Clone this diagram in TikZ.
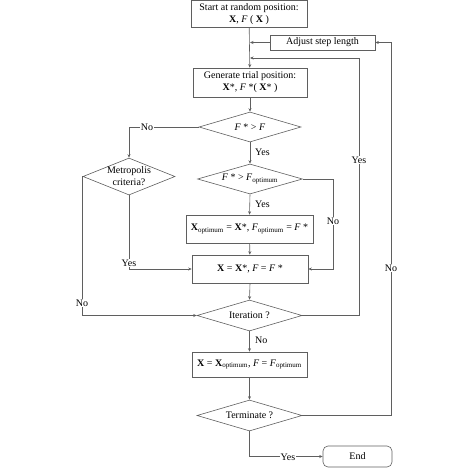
\documentclass[tikz,border=0pt]{standalone}
\usepackage{fontspec}
\setmainfont{Liberation Serif}
\usetikzlibrary{shapes.geometric,arrows.meta}
\definecolor{ln}{RGB}{95,95,95}
\begin{document}
\begin{tikzpicture}[x=1pt,y=-1pt,
  font=\fontsize{10}{12}\selectfont,
  box/.style={draw=ln,line width=0.6pt,rectangle,inner sep=0pt,align=center},
  dia/.style={draw=ln,line width=0.6pt,diamond,inner sep=0pt,shape aspect=3},
  lab/.style={fill=white,inner sep=1pt},
  conn/.style={draw=ln,line width=0.6pt},
  arr/.style={conn,-{Stealth[length=3.5pt,width=3pt]}}]
\useasboundingbox (0,0) rectangle (474,474);
% boxes
\node[box,minimum width=116pt,minimum height=27pt] (start) at (249,14)
  {Start at random position:\\ \textbf{X}, \textit{F} ( \textbf{X} )};
\node[box,minimum width=105pt,minimum height=15pt] (adjust) at (322.5,42.5) {Adjust step length};
\node[box,minimum width=114pt,minimum height=29pt] (gen) at (250,82.5)
  {Generate trial position:\\ \textbf{X}*, \textit{F} *( \textbf{X}* )};
\node[dia,minimum width=102pt,minimum height=30pt,label={center:\textit{F} * > \textit{F}}] (d1) at (250,127) {};
\node[dia,minimum width=92pt,minimum height=37pt,label={[align=center]center:Metropolis\\criteria?}] (metro) at (129,176.5) {};
\node[dia,minimum width=105pt,minimum height=30pt,label={center:\textit{F} * > \textit{F}\textsubscript{optimum}}] (d2) at (250,179) {};
\node[box,minimum width=127pt,minimum height=28pt] (xopt) at (249.5,229)
  {\textbf{X}\textsubscript{optimum} = \textbf{X}*, \textit{F}\textsubscript{optimum} = \textit{F} *};
\node[box,minimum width=116pt,minimum height=28pt] (xx) at (250,269)
  {\textbf{X} = \textbf{X}*, \textit{F} = \textit{F} *};
\node[dia,minimum width=105pt,minimum height=31pt,label={center:Iteration ?}] (iter) at (249.5,315.5) {};
\node[box,minimum width=115pt,minimum height=25pt] (xfin) at (249.5,364.5)
  {\textbf{X} = \textbf{X}\textsubscript{optimum}, \textit{F} = \textit{F}\textsubscript{optimum}};
\node[dia,minimum width=105pt,minimum height=31pt,label={center:Terminate ?}] (term) at (249.5,415.5) {};
\node[box,rounded corners=5pt,minimum width=69pt,minimum height=21pt] (end) at (357.5,456.5) {End};
% coordinates
\coordinate (yc) at (359,58);
\coordinate (nc) at (391,42.5);
\coordinate (c2) at (333,269);
\coordinate (c3) at (82,315.5);
% connectors
\draw[arr] (start) -- (gen);
\draw[arr] (adjust.west) -- (adjust.west -| gen.north);
\draw[arr] (iter.east) -| (yc) -- (yc -| gen.north);
\draw[arr] (term.east) -| (nc) -- (adjust.east);
\draw[arr] (gen) -- (d1);
\draw[arr] (d1.south) -- (d2.north);
\draw[arr] (d1.west) -| (metro.north);
\draw[arr] (d2.south) -- (xopt.north);
\draw[arr] (d2.east) -| (c2) -- (xx.east);
\draw[arr] (xopt) -- (xx);
\draw[arr] (metro.south) |- (xx.west);
\draw[arr] (metro.west) -| (c3) -- (iter.west);
\draw[arr] (xx.south) -- (iter.north);
\draw[arr] (iter.south) -- (xfin.north);
\draw[arr] (xfin.south) -- (term.north);
\draw[arr] (term.south) |- (end.west);
% labels
\node[lab] (l1) at (147,127) {No};
\node[anchor=west,inner sep=1pt] (l2) at (254,152) {Yes};
\node[anchor=west,inner sep=1pt] (l3) at (254,204) {Yes};
\node[lab] (l4) at (359,160) {Yes};
\node[lab] (l5) at (333,221) {No};
\node[lab] (l6) at (129,263) {Yes};
\node[lab] (l7) at (82,303) {No};
\node[anchor=west,inner sep=1pt] (l8) at (254,340) {No};
\node[lab] (l9) at (391,268) {No};
\node[lab] (l10) at (288,457) {Yes};
\end{tikzpicture}
\end{document}
